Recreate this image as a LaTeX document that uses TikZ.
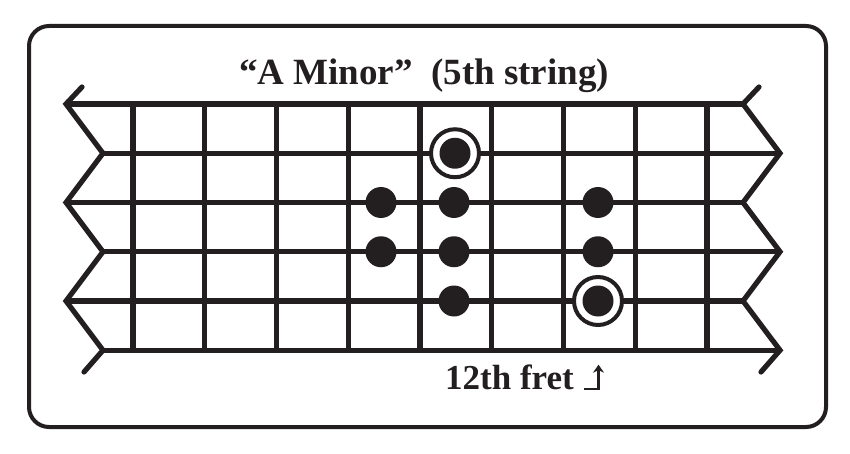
\documentclass[tikz,border=0pt]{standalone}
\usepackage{fontspec}
\setmainfont{Liberation Serif}
\usetikzlibrary{arrows.meta}
\definecolor{ink}{HTML}{231F20}
\begin{document}
\begin{tikzpicture}[x=1pt,y=-1pt,
  gridline/.style={draw=ink,line width=5.2pt},
  zig/.style={draw=ink,line width=5.2pt,line join=miter,line cap=round},
  dot/.style={circle,fill=ink,minimum size=31pt,inner sep=0pt},
  ring/.style={circle,draw=ink,fill=white,line width=4pt,minimum size=48pt,inner sep=0pt},
  lbl/.style={font=\bfseries\fontsize{37}{40}\selectfont,text=ink,inner sep=0pt},
  lblsmall/.style={font=\bfseries\fontsize{35}{40}\selectfont,text=ink,inner sep=0pt}]
\useasboundingbox (0,0) rectangle (850,454);
% frame
\draw[ink,line width=4pt,rounded corners=20pt] (29,26) rectangle (826,427);
% strings
\foreach \i/\a/\b in {0/66/743,1/103/780,2/66/743,3/103/780,4/66/743,5/103/780}
  \draw[gridline] (\a,{104+49.25*\i}) -- (\b,{104+49.25*\i});
% frets
\foreach \i in {0,...,8}
  \draw[gridline] ({133+71.75*\i},104) -- ({133+71.75*\i},350.25);
% zigzag ends
\foreach \s in {0,677}
  \draw[zig,xshift=\s] (82,87) -- (66,104) -- (103,153.25) -- (66,202.5) -- (103,251.75) -- (66,301) -- (103,350.25) -- (84,372);
% dots
\node[ring] (r1) at (455,153.25) {};
\node[dot]  (r1c) at (455,153.25) {};
\node[dot] (d1) at (381,202.5) {};
\node[dot] (d2) at (454,202.5) {};
\node[dot] (d3) at (598,202.5) {};
\node[dot] (d4) at (381,251.75) {};
\node[dot] (d5) at (454,251.75) {};
\node[dot] (d6) at (598,251.75) {};
\node[dot] (d7) at (454,301) {};
\node[ring] (r2) at (598,301) {};
\node[dot]  (r2c) at (598,301) {};
% texts
\node[lbl,anchor=base] (title) at (424,85) {“A Minor”\ \ (5th string)};
\node[lblsmall,anchor=base west] (fret) at (445,389) {12th fret};
\coordinate (ah) at (584,388.7);
\draw[ink,line width=2.4pt,-{Stealth[length=8pt,width=11pt]}] (ah) -- ++(14.5,0) -- ++(0,-24);
\end{tikzpicture}
\end{document}
